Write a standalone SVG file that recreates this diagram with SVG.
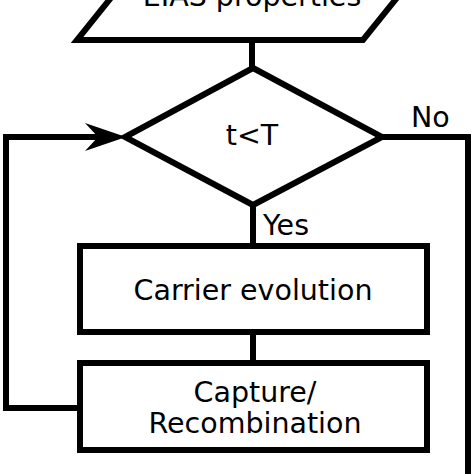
<svg xmlns="http://www.w3.org/2000/svg" width="474" height="474" viewBox="0 0 474 474">
<style>
.s{fill:#fff;stroke:#000;stroke-width:6;stroke-linejoin:miter}
.l{fill:none;stroke:#000;stroke-width:6}
text{font-family:"DejaVu Sans",sans-serif;font-size:28.5px;fill:#000}
.c{text-anchor:middle}
</style>
<rect width="474" height="474" fill="#fff"/>
<g id="connectors">
<path class="l" d="M252,40V68"/>
<path class="l" d="M253,205V246"/>
<path class="l" d="M253,332V363"/>
<path class="l" d="M382,137H468V480"/>
<path class="l" d="M80,408H6V137H110"/>
<path d="M126,137L85,123L98,137L85,151Z" fill="#000"/>
<text x="411" y="127">No</text>
<text x="263" y="235">Yes</text>
</g>
<g id="input">
<polygon class="s" points="77,40 363,40 400,-6 114,-6"/>
<text class="c" x="252" y="6">EIAS properties</text>
</g>
<g id="decision">
<polygon class="s" points="253,68 382,137 253,205 125,137"/>
<text class="c" x="252" y="145">t&lt;T</text>
</g>
<g id="carrier">
<rect class="s" x="80" y="246" width="347" height="86"/>
<text class="c" x="253" y="300">Carrier evolution</text>
</g>
<g id="capture">
<rect class="s" x="80" y="363" width="347" height="87"/>
<text class="c" x="255" y="402">Capture/</text>
<text class="c" x="255" y="433">Recombination</text>
</g>
</svg>
